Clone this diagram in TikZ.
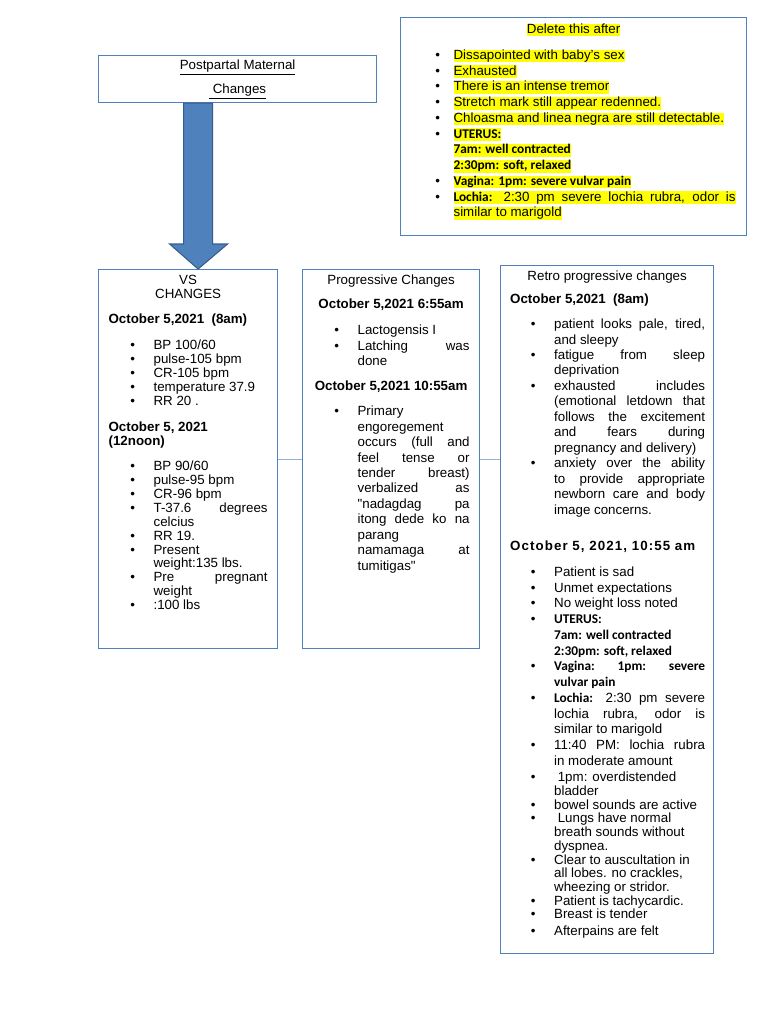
\documentclass[tikz,border=0pt]{standalone}
\usepackage{fontspec}
\setmainfont{Liberation Sans}
\newfontfamily\carlito{Carlito}
\usetikzlibrary{calc}
\definecolor{boxblue}{RGB}{79,129,189}
\definecolor{arrowedge}{RGB}{56,93,138}
\definecolor{linkblue}{RGB}{149,179,215}
\definecolor{marker}{RGB}{255,255,0}
\newlength{\bulskip}\setlength{\bulskip}{33.75pt}
\newlength{\bulgap}\setlength{\bulgap}{14pt}
\newcommand{\bul}[1]{{\leftskip=\bulskip\noindent\llap{\textbullet\hspace{\bulgap}}#1\par}}
\newcommand{\hlt}[1]{{\setlength{\fboxsep}{0pt}\colorbox{marker}{\rule[-2.2pt]{0pt}{9.6pt}#1}}}
\newcommand{\cb}[1]{{\carlito\bfseries #1}}
\newcommand{\panel}[4]{\begin{minipage}[t][#1][t]{#2}\fontsize{10}{#3}\selectfont
  \hyphenpenalty=10000\exhyphenpenalty=10000#4\end{minipage}}

\begin{document}
\begin{tikzpicture}[x=0.75pt, y=-0.75pt,
    panelbox/.style={draw=boxblue, line width=0.9pt, anchor=north west,
                     inner xsep=7.5pt, inner ysep=4pt},
    link/.style={draw=linkblue, line width=0.9pt},
    blockarrow/.style={fill=boxblue, draw=arrowedge, line width=0.8pt}
]
    \useasboundingbox[fill=white] (0,0) rectangle (768,1024);

    \node[panelbox, inner ysep=4.55pt] (note) at (400,17) {\panel{154.4pt}{244.5pt}{11.8pt}{%
        \setlength{\bulskip}{32.25pt}\setlength{\bulgap}{10.25pt}%
        {\centering\hlt{Delete this after}\par}\vspace{7.7pt}
        \bul{\hlt{Dissapointed with baby's sex}}
        \bul{\hlt{Exhausted}}
        \bul{\hlt{There is an intense tremor}}
        \bul{\hlt{Stretch mark still appear redenned.}}
        \bul{\hlt{Chloasma and linea negra are still detectable.}}
        \bul{\hlt{\cb{UTERUS:}}\\\hlt{\cb{7am: well contracted}}\\\hlt{\cb{2:30pm: soft, relaxed}}}
        \bul{\hlt{\cb{Vagina: 1pm: severe vulvar pain}}}
        \bul{\hlt{\makebox[211.5pt][s]{\cb{Lochia:} 2:30 pm severe lochia rubra, odor is}}\\\hlt{similar to marigold}}
    }};

    \node[draw=boxblue, line width=0.9pt, anchor=north west, minimum width=208.5pt,
          minimum height=35.25pt, inner sep=0pt, align=center,
          font=\fontsize{10}{18}\selectfont] (title) at (98,55)
          {\underline{Postpartal Maternal}\\\underline{~Changes}};

    \node[panelbox] (vs) at (98,269) {\panel{276.25pt}{119.25pt}{10.4pt}{%
        {\centering VS\\CHANGES\par}\vspace{9pt}
        \noindent\textbf{October 5,2021\ \ (8am)}\par\vspace{9pt}
        \bul{BP 100/60}
        \bul{pulse-105 bpm}
        \bul{CR-105 bpm}
        \bul{temperature 37.9}
        \bul{RR 20 .}
        \vspace{9pt}
        \noindent\textbf{October 5, 2021\\(12noon)}\par\vspace{9pt}
        \bul{BP 90/60}
        \bul{pulse-95 bpm}
        \bul{CR-96 bpm}
        \bul{T-37.6 degrees\linebreak celcius}
        \bul{RR 19.}
        \bul{Present\newline weight:135 lbs.}
        \bul{Pre pregnant\linebreak weight}
        \bul{:100 lbs}
    }};

    \node[panelbox] (prog) at (302,269) {\panel{276.25pt}{117.75pt}{11.6pt}{%
        {\centering Progressive Changes\par}\vspace{6.4pt}
        {\centering\bfseries October 5,2021 6:55am\par}\vspace{7.9pt}
        \bul{Lactogensis I}
        \bul{Latching was\linebreak done}
        \vspace{7.2pt}
        {\centering\bfseries October 5,2021 10:55am\par}\vspace{7.2pt}
        \bul{Primary\newline engoregement\linebreak occurs (full and\linebreak feel tense or\linebreak
             tender breast)\linebreak verbalized as\linebreak \textquotedbl nadagdag pa\linebreak
             itong dede ko na\linebreak parang\newline namamaga at\linebreak tumitigas\textquotedbl}
    }};

    \node[panelbox, inner xsep=6.4pt] (retro) at (500,265) {\panel{508pt}{147pt}{11.6pt}{%
        {\centering Retro progressive changes\par}\vspace{5.6pt}
        \noindent\hspace{0.8pt}\textbf{October 5,2021\ \ (8am)}\par\vspace{7.2pt}
        \bul{patient looks pale, tired,\linebreak and sleepy}
        \bul{fatigue from sleep\linebreak deprivation}
        \bul{exhausted includes\linebreak (emotional letdown that\linebreak follows the excitement\linebreak
             and fears during\linebreak pregnancy and delivery)}
        \bul{anxiety over the ability\linebreak to provide appropriate\linebreak newborn care and body\linebreak
             image concerns.}
        \vspace{15.4pt}
        \noindent\hspace{0.8pt}{\bfseries\addfontfeatures{LetterSpace=8}October 5, 2021, 10:55 am}\par\vspace{7.9pt}
        \fontsize{10}{11.8}\selectfont
        \bul{Patient is sad}
        \bul{Unmet expectations}
        \bul{No weight loss noted}
        \bul{\cb{UTERUS:}\\\cb{7am: well contracted}\\\cb{2:30pm: soft, relaxed}}
        \bul{\cb{Vagina: 1pm: severe\linebreak vulvar pain}}
        \bul{\cb{Lochia:} 2:30 pm severe\linebreak lochia rubra, odor is\linebreak similar to marigold}
        \bul{11:40 PM: lochia rubra\linebreak in moderate amount}
        \vspace{2pt}\fontsize{10}{10.3}\selectfont
        \bul{\ 1pm: overdistended\newline bladder}
        \bul{bowel sounds are active}
        \bul{\ Lungs have normal\newline breath sounds without\newline dyspnea.}
        \bul{Clear to auscultation in\newline all lobes. no crackles,\newline wheezing or stridor.}
        \bul{Patient is tachycardic.}
        \bul{Breast is tender}
        \vspace{2pt}\bul{Afterpains are felt}
    }};

    \coordinate (tail) at ($(title.south)+(-39.5,0)$);
    \coordinate (tip) at (tail |- vs.north);
    \filldraw[blockarrow] ($(tail)+(-14.5,0)$) -- ($(tip)+(-14.5,-25)$) -- ($(tip)+(-28.5,-25)$) -- (tip)
        -- ($(tip)+(29.5,-25)$) -- ($(tip)+(14.5,-25)$) -- ($(tail)+(14.5,0)$) -- cycle;

    \draw[link] (vs.east) -- (prog.west);
    \draw[link] (prog.east) -- (prog.east -| retro.west);
\end{tikzpicture}
\end{document}
